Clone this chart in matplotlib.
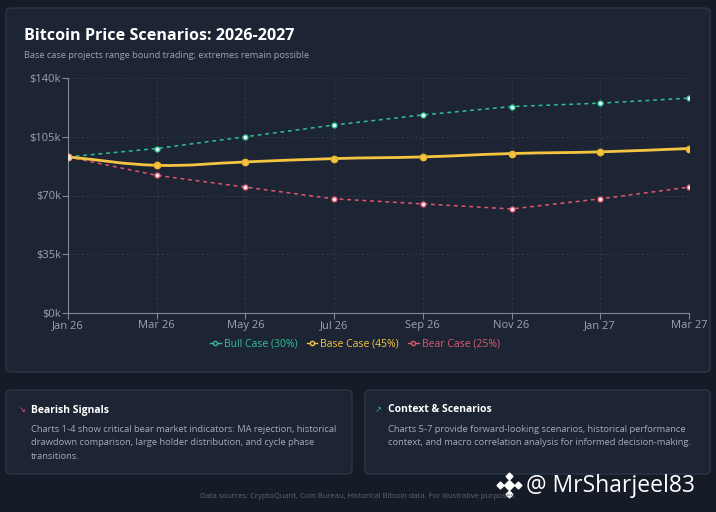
import matplotlib
matplotlib.use("Agg")
import matplotlib.pyplot as plt
import numpy as np
from matplotlib.patches import FancyBboxPatch, PathPatch
from matplotlib.path import Path
from matplotlib.lines import Line2D

plt.rcParams['font.family'] = ['Open Sans', 'DejaVu Sans']

months = ["Jan 26", "Mar 26", "May 26", "Jul 26", "Sep 26", "Nov 26", "Jan 27", "Mar 27"]
bull = [93, 98, 105, 112, 118, 123, 125, 128]
base = [93, 88, 90, 92, 93, 95, 96, 98]
bear = [93, 82, 75, 68, 65, 62, 68, 75]
yticks = [0, 35, 70, 105, 140]

BG = "#161c27"
CARD = "#1d2534"
EDGE = "#2c3647"
GREEN = "#30bf95"
YELLOW = "#f5c542"
RED = "#e0566e"
GRAY = "#9aa3b2"

W, H = 716, 512
fig = plt.figure(figsize=(W / 100, H / 100), dpi=100)
fig.patch.set_facecolor(BG)

def px(x, y):
    return x / W, 1 - y / H

def card(x0, y0, x1, y1):
    a, b = px(x0, y1)
    c, d = px(x1, y0)
    p = FancyBboxPatch((a, b), c - a, d - b, boxstyle="round,pad=0,rounding_size=0.008",
                       transform=fig.transFigure, facecolor=CARD, edgecolor=EDGE, lw=1, zorder=-5)
    fig.patches.append(p)

card(6, 8, 710, 372)
card(6, 390, 352, 474)
card(365, 390, 710, 474)

fig.text(*px(24, 36), "Bitcoin Price Scenarios: 2026-2027", color="white", fontsize=11.6,
         fontweight="bold", va="center")
fig.text(*px(24, 56), "Base case projects range bound trading; extremes remain possible", color=GRAY,
         fontsize=6.7, va="center")

l, b = px(68, 313)
r, t = px(689, 78)
ax = fig.add_axes([l, b, r - l, t - b], zorder=2)
ax.patch.set_alpha(0)
x = np.arange(len(months))
ax.set_xlim(0, len(months) - 1)
ax.set_ylim(0, 140)
ax.set_xticks(x)
ax.set_xticklabels(months)
ax.set_yticks(yticks)
ax.set_yticklabels(["$%dk" % v for v in yticks])
ax.tick_params(colors=GRAY, labelsize=8, length=4, pad=1)
for s in ["top", "right"]:
    ax.spines[s].set_visible(False)
for s in ["left", "bottom"]:
    ax.spines[s].set_color("#7d8797")
ax.tick_params(axis="both", color="#7d8797")
ax.grid(True, color="#2f394a", lw=0.8, ls=(0, (2, 2)))
ax.set_axisbelow(True)

ax.plot(x, bull, color=GREEN, lw=1.1, ls=(0, (2.5, 2.5)), marker="o", ms=3.6,
        mfc="#e0fff6", mec=GREEN, mew=0.9, zorder=3)
ax.plot(x, bear, color=RED, lw=1.1, ls=(0, (2.5, 2.5)), marker="o", ms=3.6,
        mfc="#ffe6ec", mec=RED, mew=0.9, zorder=3)

# smooth base line (bezier through the points, tension like chart.js)
fig.canvas.draw()
pts = ax.transData.transform(np.column_stack([x, base]))
tension = 0.4
verts = [pts[0]]
codes = [Path.MOVETO]
cps = []
for i in range(len(pts)):
    prev = pts[max(i - 1, 0)]
    nxt = pts[min(i + 1, len(pts) - 1)]
    d01 = np.hypot(*(pts[i] - prev))
    d12 = np.hypot(*(nxt - pts[i]))
    tot = d01 + d12 if d01 + d12 > 0 else 1
    fa = tension * d01 / tot
    fb = tension * d12 / tot
    cps.append((pts[i] - fa * (nxt - prev), pts[i] + fb * (nxt - prev)))
for i in range(1, len(pts)):
    verts += [cps[i - 1][1], cps[i][0], pts[i]]
    codes += [Path.CURVE4] * 3
verts = ax.transData.inverted().transform(np.array(verts))
ax.add_patch(PathPatch(Path(verts, codes), facecolor="none", edgecolor=YELLOW, lw=2.0, zorder=4))
ax.plot(x, base, ls="none", marker="o", ms=4.6, mfc=YELLOW, mec="#e9b230", zorder=5)
ax.plot([0], [base[0]], ls="none", marker="o", ms=4.6, mfc="#f3e3d0", mec="#e8a8a0", zorder=6)

handles = [
    Line2D([], [], color=GREEN, marker="o", ms=3, mfc=CARD, lw=1),
    Line2D([], [], color=YELLOW, marker="o", ms=3, mfc=CARD, lw=1),
    Line2D([], [], color=RED, marker="o", ms=3, mfc=CARD, lw=1),
]
leg = fig.legend(handles, ["Bull Case (30%)", "Base Case (45%)", "Bear Case (25%)"],
                 loc="center", bbox_to_anchor=px(355, 344), ncol=3, frameon=False,
                 fontsize=7.5, handlelength=1.0, handletextpad=0.3, columnspacing=0.9)
for txt, c in zip(leg.get_texts(), [GREEN, YELLOW, RED]):
    txt.set_color(c)

fig.text(*px(19, 410), "\u2198", color=RED, fontsize=6, va="center", family="DejaVu Sans")
fig.text(*px(31, 410), "Bearish Signals", color="white", fontsize=7.5, fontweight="bold", va="center")
fig.text(*px(31, 425), "Charts 1-4 show critical bear market indicators: MA rejection, historical\n"
         "drawdown comparison, large holder distribution, and cycle phase\ntransitions.",
         color="#a3abb8", fontsize=6.75, va="top", linespacing=1.62)
fig.text(*px(375, 410), "\u2197", color=GREEN, fontsize=6, va="center", family="DejaVu Sans")
fig.text(*px(388, 410), "Context & Scenarios", color="white", fontsize=7.5, fontweight="bold", va="center")
fig.text(*px(388, 425), "Charts 5-7 provide forward-looking scenarios, historical performance\n"
         "context, and macro correlation analysis for informed decision-making.",
         color="#a3abb8", fontsize=6.75, va="top", linespacing=1.62)

fig.text(*px(358, 497), "Data sources: CryptoQuant, Coin Bureau, Historical Bitcoin data. For illustrative purposes.",
         color="#5d6677", fontsize=5.5, ha="center", va="center")

# watermark
cx, cy = px(509, 485)
fig.lines.append(Line2D([cx], [cy], transform=fig.transFigure, marker="D", ms=5, color="white", ls="none"))
for dx, dy in [(-9, 0), (9, 0), (0, -9), (0, 9)]:
    qx, qy = px(509 + dx, 485 + dy)
    fig.lines.append(Line2D([qx], [qy], transform=fig.transFigure, marker="D", ms=3.5,
                            color="white", ls="none"))
fig.text(*px(526, 486), "@ MrSharjeel83", color="white", fontsize=16.5, va="center")

fig.savefig("out.png", dpi=100, facecolor=BG)
